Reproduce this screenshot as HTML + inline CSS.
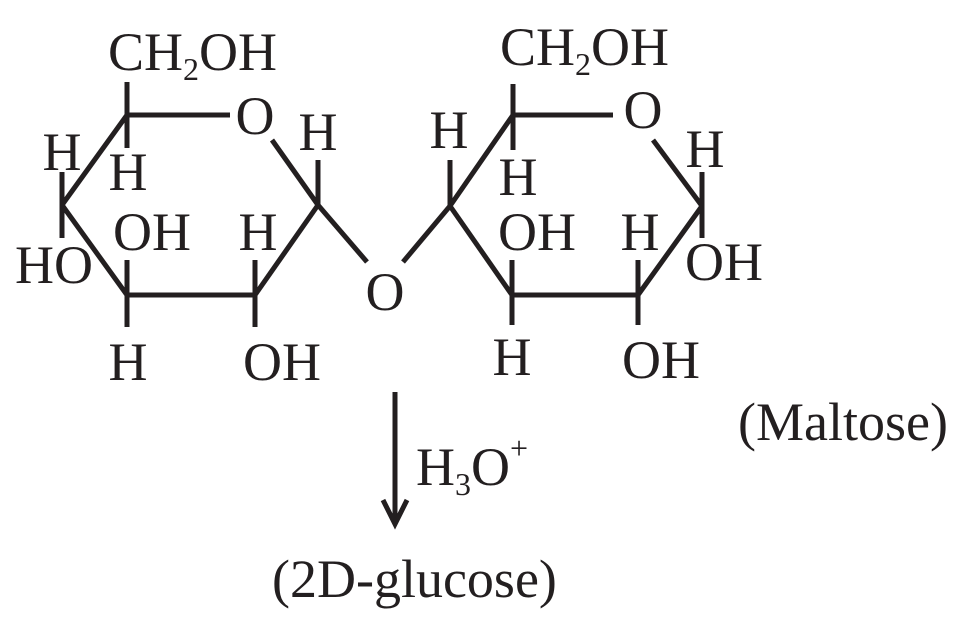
<!DOCTYPE html>
<html><head><style>
html,body{margin:0;padding:0;background:#fff;}
svg{display:block}
text{font-family:"Liberation Serif",serif;font-size:54px;fill:#231f20}
</style></head><body>
<svg width="957" height="628" viewBox="0 0 957 628" xmlns="http://www.w3.org/2000/svg">
<g stroke="#231f20" stroke-width="5" fill="none" stroke-linecap="butt">
<!-- left ring -->
<line x1="127" y1="115" x2="230" y2="115"/>
<line x1="272" y1="140" x2="318" y2="205"/>
<line x1="318" y1="205" x2="255" y2="295"/>
<line x1="255" y1="295" x2="127" y2="295"/>
<line x1="127" y1="295" x2="62" y2="205"/>
<line x1="62" y1="205" x2="127" y2="115"/>
<line x1="127" y1="82" x2="127" y2="148"/>
<line x1="62" y1="172" x2="62" y2="238"/>
<line x1="127" y1="260" x2="127" y2="327"/>
<line x1="255" y1="260" x2="255" y2="327"/>
<line x1="318" y1="160" x2="318" y2="205"/>
<line x1="318" y1="205" x2="367" y2="262"/>
<line x1="403" y1="262" x2="450" y2="206"/>
<!-- right ring -->
<line x1="513" y1="115" x2="613" y2="115"/>
<line x1="653" y1="140" x2="702" y2="206"/>
<line x1="702" y1="206" x2="638" y2="295"/>
<line x1="638" y1="295" x2="512" y2="295"/>
<line x1="512" y1="295" x2="450" y2="206"/>
<line x1="450" y1="206" x2="513" y2="115"/>
<line x1="513" y1="84" x2="513" y2="150"/>
<line x1="450" y1="160" x2="450" y2="206"/>
<line x1="702" y1="172" x2="702" y2="238"/>
<line x1="512" y1="260" x2="512" y2="325"/>
<line x1="638" y1="260" x2="638" y2="325"/>
<!-- arrow -->
<line x1="395" y1="392" x2="395" y2="522"/>
<polyline points="383,500 395,524 407,500"/>
</g>
<g text-anchor="middle">
<text x="255" y="134">O</text>
<text x="128" y="190">H</text>
<text x="62" y="170">H</text>
<text x="128" y="380">H</text>
<text x="258" y="250">H</text>
<text x="318" y="150">H</text>
<text x="385" y="310">O</text>
<text x="643" y="128">O</text>
<text x="449" y="148">H</text>
<text x="518" y="195">H</text>
<text x="705" y="167">H</text>
<text x="512" y="375">H</text>
<text x="640" y="250">H</text>
</g>
<text x="15" y="283">HO</text>
<text x="113" y="250">OH</text>
<text x="243" y="380">OH</text>
<text x="685" y="280">OH</text>
<text x="498" y="250">OH</text>
<text x="622" y="378">OH</text>
<text x="108" y="70">CH<tspan font-size="32" dy="10">2</tspan><tspan dy="-10">OH</tspan></text>
<text x="500" y="65">CH<tspan font-size="32" dy="10">2</tspan><tspan dy="-10">OH</tspan></text>
<text x="416" y="485">H<tspan font-size="32" dy="10">3</tspan><tspan dy="-10">O</tspan><tspan font-size="32" dy="-26">+</tspan></text>
<text x="738" y="440">(Maltose)</text>
<text x="272" y="597">(2D-glucose)</text>
</svg>
</body></html>
